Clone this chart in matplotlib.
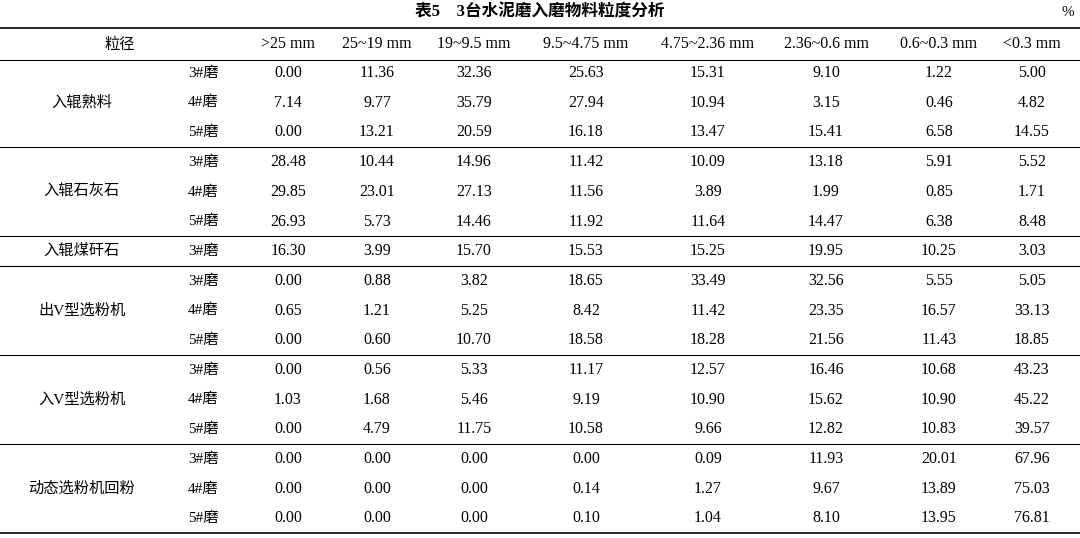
import matplotlib
matplotlib.use("Agg")
import matplotlib.pyplot as plt

title = "表5　3台水泥磨入磨物料粒度分析"
columns = [">25 mm", "25~19 mm", "19~9.5 mm", "9.5~4.75 mm", "4.75~2.36 mm", "2.36~0.6 mm", "0.6~0.3 mm", "<0.3 mm"]
groups = ["入辊熟料", "入辊石灰石", "入辊煤矸石", "出V型选粉机", "入V型选粉机", "动态选粉机回粉"]
group_mills = [["3#磨", "4#磨", "5#磨"], ["3#磨", "4#磨", "5#磨"], ["3#磨"],
               ["3#磨", "4#磨", "5#磨"], ["3#磨", "4#磨", "5#磨"], ["3#磨", "4#磨", "5#磨"]]
values = [
    ["0.00", "11.36", "32.36", "25.63", "15.31", "9.10", "1.22", "5.00"],
    ["7.14", "9.77", "35.79", "27.94", "10.94", "3.15", "0.46", "4.82"],
    ["0.00", "13.21", "20.59", "16.18", "13.47", "15.41", "6.58", "14.55"],
    ["28.48", "10.44", "14.96", "11.42", "10.09", "13.18", "5.91", "5.52"],
    ["29.85", "23.01", "27.13", "11.56", "3.89", "1.99", "0.85", "1.71"],
    ["26.93", "5.73", "14.46", "11.92", "11.64", "14.47", "6.38", "8.48"],
    ["16.30", "3.99", "15.70", "15.53", "15.25", "19.95", "10.25", "3.03"],
    ["0.00", "0.88", "3.82", "18.65", "33.49", "32.56", "5.55", "5.05"],
    ["0.65", "1.21", "5.25", "8.42", "11.42", "23.35", "16.57", "33.13"],
    ["0.00", "0.60", "10.70", "18.58", "18.28", "21.56", "11.43", "18.85"],
    ["0.00", "0.56", "5.33", "11.17", "12.57", "16.46", "10.68", "43.23"],
    ["1.03", "1.68", "5.46", "9.19", "10.90", "15.62", "10.90", "45.22"],
    ["0.00", "4.79", "11.75", "10.58", "9.66", "12.82", "10.83", "39.57"],
    ["0.00", "0.00", "0.00", "0.00", "0.09", "11.93", "20.01", "67.96"],
    ["0.00", "0.00", "0.00", "0.14", "1.27", "9.67", "13.89", "75.03"],
    ["0.00", "0.00", "0.00", "0.10", "1.04", "8.10", "13.95", "76.81"],
]

fig = plt.figure(figsize=(10.8, 5.38), dpi=100)
ax = fig.add_axes([0, 0, 1, 1])
ax.set_xlim(0, 1080); ax.set_ylim(538, 0); ax.axis("off")

serif = ["Liberation Serif", "Noto Sans CJK SC"]
cjk = ["Noto Sans CJK SC", "Liberation Serif"]
col_x = [288, 377, 474, 586, 708, 826, 939, 1032]
fs = 11.5

ax.text(540, 12, title, ha="center", va="center", fontsize=12, fontweight="bold", family=serif)
ax.text(1068, 12, "%", ha="center", va="center", fontsize=11, family=serif)
ax.plot([0, 1080], [28, 28], color="black", lw=1.2)
ax.plot([0, 1080], [60, 60], color="black", lw=0.8)
ax.text(120, 44, "粒径", ha="center", va="center", fontsize=11, family=cjk)
for x, c in zip(col_x, columns):
    ax.text(x, 44, c, ha="center", va="center", fontsize=fs, family=serif)

row = 0
dy = 29.7
for g, mills in zip(groups, group_mills):
    start = row
    for m in mills:
        y = 73 + dy * row
        ax.text(203, y, m, ha="center", va="center", fontsize=11, family=serif)
        for x, v in zip(col_x, values[row]):
            ax.text(x, y, v, ha="center", va="center", fontsize=fs, family=serif)
        row += 1
    ymid = 73 + dy * (start + row - 1) / 2
    ax.text(82, ymid, g, ha="center", va="center", fontsize=11, family=serif)
    yl = 73 + dy * (row - 0.5)
    ax.plot([0, 1080], [yl, yl], color="black", lw=1.2 if row == 16 else 0.8)

fig.savefig("out.png", dpi=100)
